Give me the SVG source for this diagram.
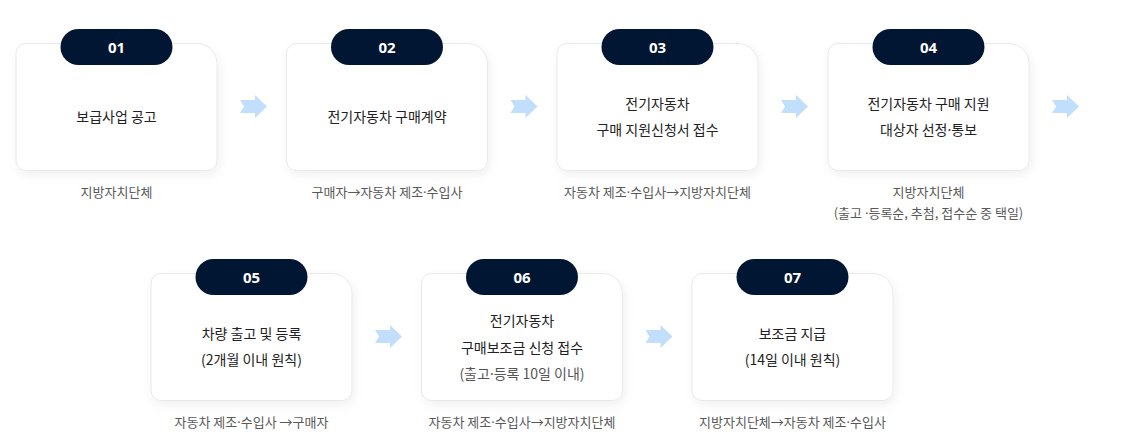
<svg xmlns="http://www.w3.org/2000/svg" width="1145" height="447" viewBox="0 0 1145 447">
<defs>
<filter id="sh" x="-20%" y="-20%" width="140%" height="150%">
<feDropShadow dx="2" dy="4" stdDeviation="5" flood-color="#000" flood-opacity="0.06"/>
</filter>
<path id="box" d="M10 0 H181 A20 20 0 0 1 201 20 V117 A10 10 0 0 1 191 127 H10 A10 10 0 0 1 0 117 V10 A10 10 0 0 1 10 0 Z"/>
<path id="arr" d="M0 -6.5 H15 V-11.5 L27 0 L15 11.5 V6.5 H0 L4 0 Z"/>
</defs>
<style>
.box{fill:#fff;stroke:#e9e9e9;stroke-width:1;filter:url(#sh)}
.badge{fill:#011633}
.num{font-family:"Noto Sans","Noto Sans CJK KR",sans-serif;font-weight:700;font-size:15px;fill:#fff;text-anchor:middle}
.main{font-family:"Noto Sans CJK KR","Noto Sans",sans-serif;font-size:14px;fill:#222;text-anchor:middle}
.gray{fill:#555}
.sub{font-family:"Noto Sans CJK KR","Noto Sans",sans-serif;font-size:13px;fill:#595959;text-anchor:middle}
.d{font-family:"Noto Sans",sans-serif}
.arrow{fill:#c2defd}
</style>
<rect width="1145" height="447" fill="#fff"/>
<g id="connectors">
<use href="#arr" class="arrow" x="240" y="106.5"/>
<use href="#arr" class="arrow" x="510.5" y="106.5"/>
<use href="#arr" class="arrow" x="781" y="106.5"/>
<use href="#arr" class="arrow" x="1052" y="106.5"/>
<use href="#arr" class="arrow" x="375" y="336.5"/>
<use href="#arr" class="arrow" x="645.5" y="336.5"/>
</g>
<g id="node01">
<use href="#box" class="box" x="16" y="43.5"/>
<rect class="badge" x="60.5" y="29" width="112" height="36" rx="18"/>
<text class="num" x="116.5" y="52.5">01</text>
<text class="main" x="116.5" y="122">보급사업 공고</text>
<text class="sub" x="116.5" y="196.5">지방자치단체</text>
</g>
<g id="node02">
<use href="#box" class="box" x="286.5" y="43.5"/>
<rect class="badge" x="331" y="29" width="112" height="36" rx="18"/>
<text class="num" x="387" y="52.5">02</text>
<text class="main" x="387" y="122">전기자동차 구매계약</text>
<text class="sub" x="387" y="196.5">구매자→자동차 제조<tspan class="d">·</tspan>수입사</text>
</g>
<g id="node03">
<use href="#box" class="box" x="557" y="43.5"/>
<rect class="badge" x="601.5" y="29" width="112" height="36" rx="18"/>
<text class="num" x="657.5" y="52.5">03</text>
<text class="main" x="657.5" y="109">전기자동차</text>
<text class="main" x="657.5" y="135">구매 지원신청서 접수</text>
<text class="sub" x="657.5" y="196.5">자동차 제조<tspan class="d">·</tspan>수입사→지방자치단체</text>
</g>
<g id="node04">
<use href="#box" class="box" x="828" y="43.5"/>
<rect class="badge" x="872.5" y="29" width="112" height="36" rx="18"/>
<text class="num" x="928.5" y="52.5">04</text>
<text class="main" x="928.5" y="109">전기자동차 구매 지원</text>
<text class="main" x="928.5" y="135">대상자 선정<tspan class="d">·</tspan>통보</text>
<text class="sub" x="928.5" y="196.5">지방자치단체</text>
<text class="sub" x="928.5" y="217.5">(출고 <tspan class="d">·</tspan>등록순, 추첨, 접수순 중 택일)</text>
</g>
<g id="node05">
<use href="#box" class="box" x="151" y="273.5"/>
<rect class="badge" x="195.5" y="259" width="112" height="36" rx="18"/>
<text class="num" x="251.5" y="282.5">05</text>
<text class="main" x="251.5" y="338.5">차량 출고 및 등록</text>
<text class="main" x="251.5" y="365">(2개월 이내 원칙)</text>
<text class="sub" x="251.5" y="426.5">자동차 제조<tspan class="d">·</tspan>수입사 →구매자</text>
</g>
<g id="node06">
<use href="#box" class="box" x="421.5" y="273.5"/>
<rect class="badge" x="466" y="259" width="112" height="36" rx="18"/>
<text class="num" x="522" y="282.5">06</text>
<text class="main" x="522" y="326">전기자동차</text>
<text class="main" x="522" y="352.5">구매보조금 신청 접수</text>
<text class="main gray" x="522" y="378.5">(출고<tspan class="d">·</tspan>등록 10일 이내)</text>
<text class="sub" x="522" y="426.5">자동차 제조<tspan class="d">·</tspan>수입사→지방자치단체</text>
</g>
<g id="node07">
<use href="#box" class="box" x="692" y="273.5"/>
<rect class="badge" x="736.5" y="259" width="112" height="36" rx="18"/>
<text class="num" x="792.5" y="282.5">07</text>
<text class="main" x="792.5" y="338.5">보조금 지급</text>
<text class="main" x="792.5" y="365">(14일 이내 원칙)</text>
<text class="sub" x="792.5" y="426.5">지방자치단체→자동차 제조<tspan class="d">·</tspan>수입사</text>
</g>
</svg>
